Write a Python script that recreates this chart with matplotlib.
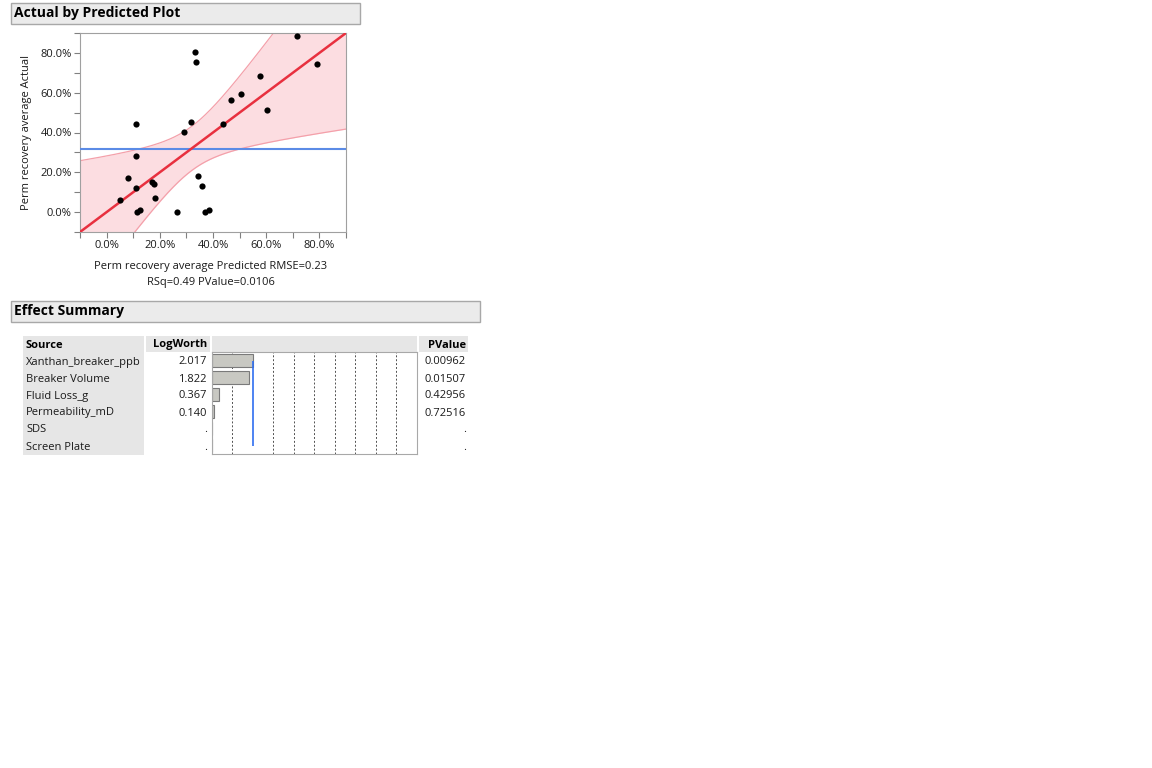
import numpy as np
import matplotlib
matplotlib.use("Agg")
import matplotlib.pyplot as plt
import matplotlib.ticker as ticker
from matplotlib.patches import Rectangle

# data (fractions)
predicted = np.array([33.1, 33.5, 11.0, 31.9, 29.0, 11.0, 8.1, 11.1, 5.1, 17.1, 18.0, 18.1, 11.6,
                      12.4, 26.4, 34.3, 35.8, 36.9, 38.4, 71.5, 79.1, 57.8, 50.4, 46.9, 60.4, 43.9]) / 100
actual = np.array([80.3, 75.5, 44.3, 45.3, 40.3, 28.3, 17.3, 12.3, 6.3, 15.3, 14.3, 7.3, 0.3,
                   1.2, 0.3, 18.3, 13.3, 0.3, 1.3, 88.3, 74.3, 68.3, 59.3, 56.3, 51.3, 44.3]) / 100
mean_actual = 0.318  # horizontal mean line as drawn in the reference
band_c0 = 0.0123     # squared half width of the confidence curves at the mean
band_c1 = 0.657      # growth of the squared half width away from the mean
fit_stats = "RSq=0.49 PValue=0.0106"
rmse_text = "RMSE=0.23"

sources = ["Xanthan_breaker_ppb", "Breaker Volume", "Fluid Loss_g", "Permeability_mD", "SDS", "Screen Plate"]
logworth = [2.017, 1.822, 0.367, 0.140, None, None]
pvalues = [0.00962, 0.01507, 0.42956, 0.72516, None, None]

W, H = 1152, 768
FONT = ["Open Sans", "DejaVu Sans"]
plt.rcParams["font.family"] = FONT
GRAY_EDGE = "#a8a8a8"
HEAD_FILL = "#ebebeb"
CELL_FILL = "#e6e6e6"
TXT = "#1a1a1a"

fig = plt.figure(figsize=(W / 100, H / 100), dpi=100)


def px_axes(left, top, right, bottom, **kw):
    return fig.add_axes([left / W, 1 - bottom / H, (right - left) / W, (bottom - top) / H], **kw)


ov = fig.add_axes([0, 0, 1, 1], zorder=0)
ov.set_xlim(0, W)
ov.set_ylim(H, 0)
ov.axis("off")

# outline headers
for (x0, y0, w, h, title) in [(10.5, 2.5, 349, 21, "Actual by Predicted Plot"),
                              (10.5, 300.5, 469, 21, "Effect Summary")]:
    ov.add_patch(Rectangle((x0, y0), w, h, fc=HEAD_FILL, ec=GRAY_EDGE, lw=1))
    ov.text(x0 + 4, y0 + h / 2 + 0.5, title, fontsize=10, fontweight="bold", va="center", ha="left", color="black")

# ---- actual by predicted plot
ax = px_axes(80, 33, 346, 232, zorder=1)
lo, hi = -0.1, 0.9
xs = np.linspace(lo, hi, 300)
xm = predicted.mean()
half = np.sqrt(band_c0 + band_c1 * (xs - xm) ** 2)
ax.fill_between(xs, xs - half, xs + half, color="#fcdde1", lw=0, zorder=1)
ax.plot(xs, xs + half, color="#f4a0aa", lw=0.9, zorder=2)
ax.plot(xs, xs - half, color="#f4a0aa", lw=0.9, zorder=2)
ax.axhline(mean_actual, color="#5b8be6", lw=1.5, zorder=3)
ax.plot([lo, hi], [lo, hi], color="#e8303f", lw=1.8, zorder=4)
ax.scatter(predicted, actual, s=20, color="black", zorder=5, linewidths=0)
ax.set_xlim(lo, hi)
ax.set_ylim(lo, hi)
for a in (ax.xaxis, ax.yaxis):
    a.set_major_locator(ticker.FixedLocator([0, 0.2, 0.4, 0.6, 0.8]))
    a.set_minor_locator(ticker.MultipleLocator(0.1))
    a.set_major_formatter(ticker.FuncFormatter(lambda v, p: "{:.1f}%".format(v * 100)))
ax.tick_params(which="both", direction="out", length=4, width=0.8, color="#808080",
               labelsize=8, labelcolor=TXT, pad=2)
for sp in ax.spines.values():
    sp.set_color("#a0a0a0")
ax.set_ylabel("Perm recovery average Actual", fontsize=8, color=TXT, labelpad=6)
ov.text(211, 267, "Perm recovery average Predicted " + rmse_text, fontsize=8, ha="center", va="center", color=TXT)
ov.text(211, 282, fit_stats, fontsize=8, ha="center", va="center", color=TXT)

# ---- effect summary table
row_top, row_h = 352, 17
n = len(sources)
head = [(23, 144), (146, 210), (212, 417), (419, 468)]
for (a0, a1) in head:
    ov.add_patch(Rectangle((a0, 335.5), a1 - a0, 16, fc=CELL_FILL, ec="none"))
ov.add_patch(Rectangle((23, row_top), 121, n * row_h + 1, fc=CELL_FILL, ec="none"))
ov.text(26, 345, "Source", fontsize=8, fontweight="bold", va="center", color="black")
ov.text(207, 345, "LogWorth", fontsize=8, fontweight="bold", va="center", ha="right", color="black")
ov.text(466, 345, "PValue", fontsize=8, fontweight="bold", va="center", ha="right", color="black")
for i, (src, lw_, pv) in enumerate(zip(sources, logworth, pvalues)):
    yc = row_top + row_h * (i + 0.5) + 1.5
    ov.text(26, yc, src, fontsize=8, va="center", color=TXT)
    ov.text(207, yc, "{:.3f}".format(lw_) if lw_ is not None else ".", fontsize=8, va="center", ha="right", color=TXT)
    ov.text(466, yc, "{:.5f}".format(pv) if pv is not None else ".", fontsize=8, va="center", ha="right", color=TXT)

bx = px_axes(211.5, row_top, 417, row_top + n * row_h, zorder=1)
bx.set_xlim(0, 10)
bx.set_ylim(n - 0.5, -0.5)
for v in range(1, 10):
    if v != 2:
        bx.axvline(v, color="#505050", lw=0.7, ls=(0, (2, 2)), zorder=1)
vals = [v if v is not None else 0 for v in logworth]
bx.barh(np.arange(n), vals, height=0.78, left=0, color="#c8c8c2", edgecolor="#7a7a7a", lw=0.8, zorder=2)
bx.vlines(2, 0, n - 1, color="#2f6ef0", lw=1.2, zorder=3)
bx.set_xticks([])
bx.set_yticks([])
for sp in bx.spines.values():
    sp.set_color(GRAY_EDGE)

fig.savefig("out.png", dpi=100)
